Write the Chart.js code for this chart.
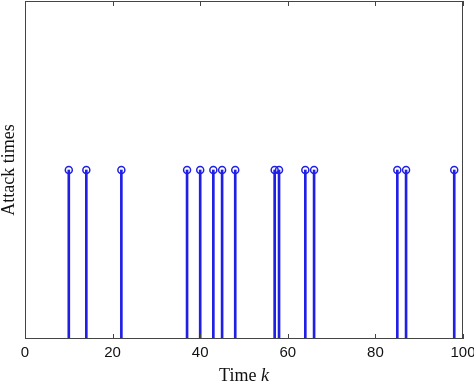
<!DOCTYPE html>
<html>
<head>
<meta charset="utf-8">
<script src="https://cdn.jsdelivr.net/npm/chart.js@4"></script>
<style>
  html, body { margin: 0; padding: 0; background: #fff; }
  #wrap { width: 474px; height: 382px; }
</style>
</head>
<body>
<div id="wrap"><canvas id="chart" width="474" height="382"></canvas></div>
<script>
// 攻擊發生的時刻 k
const attackTimes = [10, 14, 22, 37, 40, 43, 45, 48, 57, 58, 64, 66, 85, 87, 98];
const attackValue = 1;
const xTicks = [0, 20, 40, 60, 80, 100];
const yRange = [0, 2];

const STEM_COLOR = '#1f1fe6';
const FRAME_COLOR = '#444444';

const points = attackTimes.map(t => ({ x: t, y: attackValue }));

// 外框、內向刻度與 x 軸標題
const framePlugin = {
    id: 'frame',
    afterDraw(chart) {
        const { ctx, chartArea: a } = chart;
        const xs = chart.scales.x;
        ctx.save();
        ctx.strokeStyle = FRAME_COLOR;
        ctx.lineWidth = 1;
        ctx.strokeRect(a.left + 0.5, a.top + 0.5, a.right - a.left - 1, a.bottom - a.top - 1);
        xTicks.forEach(v => {
            const px = Math.round(xs.getPixelForValue(v)) + 0.5;
            ctx.beginPath();
            ctx.moveTo(px, a.bottom);
            ctx.lineTo(px, a.bottom - 5);
            ctx.moveTo(px, a.top);
            ctx.lineTo(px, a.top + 5);
            ctx.stroke();
        });

        // x 軸標題：Time k（k 為斜體）
        ctx.fillStyle = '#111';
        ctx.textBaseline = 'alphabetic';
        const f1 = '18px "Liberation Serif", "Times New Roman", serif';
        const f2 = 'italic 18px "Liberation Serif", "Times New Roman", serif';
        ctx.font = f1;
        const w1 = ctx.measureText('Time ').width;
        ctx.font = f2;
        const w2 = ctx.measureText('k').width;
        const cx = (a.left + a.right) / 2;
        const x0 = cx - (w1 + w2) / 2;
        ctx.font = f1;
        ctx.textAlign = 'left';
        ctx.fillText('Time ', x0, 381);
        ctx.font = f2;
        ctx.fillText('k', x0 + w1, 381);
        ctx.restore();
    }
};

new Chart(document.getElementById('chart'), {
    data: {
        datasets: [
            {
                type: 'scatter',
                data: points,
                borderColor: STEM_COLOR,
                backgroundColor: 'rgba(0,0,0,0)',
                pointRadius: 3.5,
                pointBorderWidth: 1.5,
                pointStyle: 'circle',
                order: 0
            },
            {
                type: 'bar',
                data: points,
                backgroundColor: STEM_COLOR,
                borderWidth: 0,
                barThickness: 2,
                order: 1
            }
        ]
    },
    options: {
        responsive: false,
        animation: false,
        events: [],
        layout: { autoPadding: false, padding: { top: 1, right: 11, left: 0, bottom: 0 } },
        plugins: {
            legend: { display: false },
            tooltip: { enabled: false }
        },
        scales: {
            x: {
                type: 'linear',
                min: 0,
                max: 100,
                offset: false,
                afterBuildTicks: s => { s.ticks = xTicks.map(v => ({ value: v })); },
                afterFit: s => { s.height = 43; s.paddingLeft = 0; s.paddingRight = 0; },
                grid: { display: false, drawTicks: false, offset: false },
                border: { display: false },
                ticks: {
                    padding: 5,
                    color: '#111',
                    font: { family: '"Liberation Sans", Arial, sans-serif', size: 15 }
                },
                title: { display: false }
            },
            y: {
                min: yRange[0],
                max: yRange[1],
                afterFit: s => { s.width = 25; },
                grid: { display: false, drawTicks: false },
                border: { display: false },
                ticks: { display: false },
                title: {
                    display: true,
                    text: 'Attack times',
                    color: '#111',
                    padding: 0,
                    font: { family: '"Liberation Serif", "Times New Roman", serif', size: 18, lineHeight: 1 }
                }
            }
        }
    },
    plugins: [framePlugin]
});
</script>
</body>
</html>
